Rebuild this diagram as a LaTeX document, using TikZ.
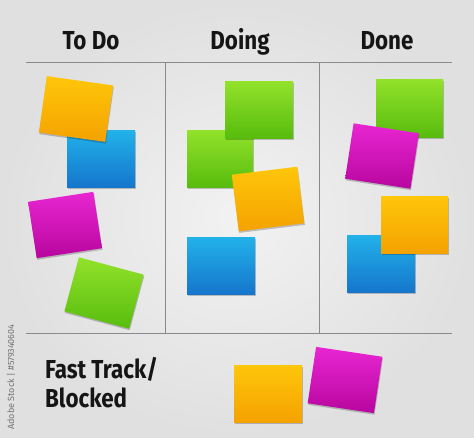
\documentclass[tikz,border=0pt]{standalone}
\usepackage{fontspec}
\setmainfont{Fira Sans}
\newfontfamily\titlefont[FakeStretch=0.86]{Fira Sans Bold}
\usetikzlibrary{shadows}
\definecolor{bgin}{HTML}{F2F2F2}
\definecolor{bgout}{HTML}{E0E0E0}
\definecolor{linegray}{HTML}{8A8A8A}
\definecolor{ortop}{HTML}{FFC60A}
\definecolor{orbot}{HTML}{F4A200}
\definecolor{bltop}{HTML}{22B2EA}
\definecolor{blbot}{HTML}{1576CC}
\definecolor{grtop}{HTML}{92E22A}
\definecolor{grbot}{HTML}{58BC0E}
\definecolor{mgtop}{HTML}{E826D2}
\definecolor{mgbot}{HTML}{B8069E}
\definecolor{inkc}{HTML}{151515}
\tikzset{
  note/.style={inner sep=0pt, minimum width=67pt, minimum height=57pt,
    drop shadow={shadow xshift=0.6pt, shadow yshift=-1.6pt, opacity=0.22, fill=black}},
  ornote/.style={note, top color=ortop, bottom color=orbot},
  blnote/.style={note, top color=bltop, bottom color=blbot},
  grnote/.style={note, top color=grtop, bottom color=grbot},
  mgnote/.style={note, top color=mgtop, bottom color=mgbot},
  rule/.style={draw=linegray, line width=1pt},
  title/.style={font=\titlefont\fontsize{26}{28}\selectfont, text=inkc, inner sep=0pt},
  wmark/.style={font=\fontsize{9}{10}\selectfont, text=black!55, inner sep=0pt}
}
\begin{document}
\begin{tikzpicture}[x=1pt,y=-1pt]
\useasboundingbox (0,0) rectangle (474,437);
\shade[inner color=bgin, outer color=bgout] (0,0) rectangle (474,437);
% grid lines
\coordinate (tl) at (26,62);
\coordinate (tr) at (452,62);
\coordinate (bl) at (26,333);
\coordinate (br) at (452,333);
\coordinate (v1t) at (165,62);
\coordinate (v1b) at (165,333);
\coordinate (v2t) at (319,62);
\coordinate (v2b) at (319,333);
\draw[rule] (tl) -- (tr);
\draw[rule] (bl) -- (br);
\draw[rule] (v1t) -- (v1b);
\draw[rule] (v2t) -- (v2b);
% titles
\node[title, anchor=base] (todo) at (91,49) {To Do};
\node[title, anchor=base] (doing) at (240,49) {Doing};
\node[title, anchor=base] (done) at (387,49) {Done};
\node[title, anchor=base west] (fast) at (45,378) {Fast Track/};
\node[title, anchor=base west] (blocked) at (45,407) {Blocked};
\node[wmark, rotate=90] (wm) at (11,377) {Adobe Stock | \#579340604};
% To Do column
\node[blnote, minimum width=68pt] (b1) at (101,158.5) {};
\node[ornote, rotate=-8] (o1) at (76,109) {};
\node[mgnote, minimum width=66pt, rotate=8.7] (m1) at (65,225) {};
\node[grnote, minimum height=56pt, rotate=-15] (g1) at (104,293) {};
% Doing column
\node[grnote, minimum width=66pt] (g2) at (220,158.5) {};
\node[grnote, minimum width=68pt] (g3) at (259,109.5) {};
\node[ornote, minimum width=66pt, rotate=7] (o2) at (268,199) {};
\node[blnote, minimum width=68pt] (b2) at (221,265.5) {};
% Done column
\node[grnote, minimum height=58pt] (g4) at (409.5,108) {};
\node[mgnote, minimum width=66pt, minimum height=56pt, rotate=-8.7] (m2) at (382,156) {};
\node[blnote, minimum width=68pt] (b3) at (381,263.5) {};
\node[ornote] (o3) at (414.5,224.5) {};
% Fast track row
\node[ornote, minimum width=68pt] (o4) at (268,393.5) {};
\node[mgnote, rotate=-8.5] (m3) at (345,380) {};
\end{tikzpicture}
\end{document}
